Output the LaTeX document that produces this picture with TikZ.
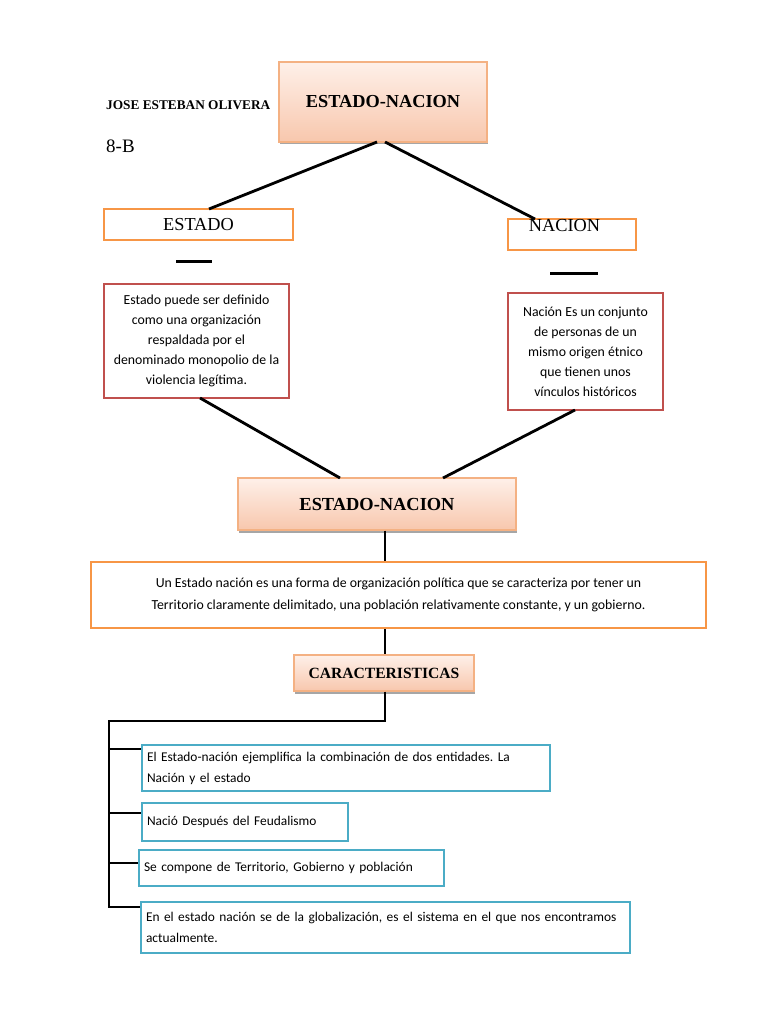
\documentclass[tikz,border=0pt]{standalone}
\usepackage{fontspec}
\setmainfont{Liberation Serif}
\newfontfamily\bodyfont{Carlito}
\usetikzlibrary{shadows}
\definecolor{peachtop}{HTML}{FEF0E9}
\definecolor{peachbot}{HTML}{F8C7AD}
\definecolor{peachline}{HTML}{F4B183}
\definecolor{orangeline}{HTML}{F79646}
\definecolor{redline}{HTML}{C0504D}
\definecolor{blueline}{HTML}{4BACC6}
\tikzset{
  gradbox/.style={draw=peachline, line width=1.2pt, top color=peachtop, bottom color=peachbot,
    inner sep=0pt, font=\bfseries, drop shadow={shadow xshift=1pt, shadow yshift=-2.5pt, fill=black, opacity=0.35}},
  orangebox/.style={draw=orangeline, line width=2pt, fill=white, inner sep=0pt},
  redbox/.style={draw=redline, line width=2pt, fill=white, inner sep=0pt, align=center,
    font=\bodyfont\frenchspacing\fontsize{13.8}{20}\selectfont},
  bluebox/.style={draw=blueline, line width=2pt, fill=white, inner xsep=5pt, inner ysep=0pt, align=left,
    font=\bodyfont\frenchspacing\fontsize{13.4}{21}\selectfont},
  conn/.style={line width=2.8pt, black},
  dashbar/.style={line width=3pt, black}
}
\begin{document}
\begin{tikzpicture}[x=1pt,y=-1pt]
\useasboundingbox (0,0) rectangle (768,1024);
\fill[white] (0,0) rectangle (768,1024);

% top
\node[gradbox, minimum width=208pt, minimum height=80pt, font=\bfseries\fontsize{18.3}{20}\selectfont] (top) at (383,102) {ESTADO-NACION};
\node[anchor=west, inner sep=0pt, font=\bfseries\fontsize{13.3}{14}\selectfont] (author) at (106,105) {JOSE ESTEBAN OLIVERA};
\node[anchor=west, inner sep=0pt, font=\fontsize{19}{21}\selectfont] (grade) at (106,146) {8-B};

% second level
\node[orangebox, minimum width=189pt, minimum height=31pt, font=\fontsize{18.3}{20}\selectfont] (estado) at (198.5,224.5) {ESTADO};
\node[orangebox, minimum width=128pt, minimum height=31pt] (nacion) at (572,234.5) {};
\node[inner sep=0pt, font=\fontsize{18.3}{20}\selectfont] (naciontext) at (564.5,226) {NACION};

\coordinate (topL) at (377,142);
\coordinate (topR) at (385,142);
\coordinate (estadoTop) at (209,209);
\coordinate (nacionTop) at (535,219);
\draw[conn] (topL) -- (estadoTop);
\draw[conn] (topR) -- (nacionTop);

\draw[dashbar] (176,261) -- (212,261);
\draw[dashbar] (550,273) -- (598,273);

% definitions
\node[redbox, minimum width=185pt, minimum height=114pt] (defestado) at (196.5,341)
  {Estado puede ser definido\\como una organización\\respaldada por el\\denominado monopolio de la\\violencia legítima.};
\node[redbox, minimum width=155pt, minimum height=117pt] (defnacion) at (585.5,351.5)
  {Nación Es un conjunto\\de personas de un\\mismo origen étnico\\que tienen unos\\vínculos históricos};

% estado-nacion 2
\node[gradbox, minimum width=278pt, minimum height=52pt, font=\bfseries\fontsize{18.4}{20}\selectfont] (en) at (377,504) {ESTADO-NACION};
\coordinate (enL) at (340,478);
\coordinate (enR) at (443,478);
\draw[conn] (200,398) -- (enL);
\draw[conn] (575,410) -- (enR);

\node[orangebox, minimum width=615pt, minimum height=66pt, align=center, font=\bodyfont\frenchspacing\fontsize{13.8}{22}\selectfont] (def) at (398.5,595)
  {Un Estado nación es una forma de organización política que se caracteriza por tener un\\Territorio claramente delimitado, una población relativamente constante, y un gobierno.};
\draw[conn] (en.south -| 385,0) -- (def.north -| 385,0);

\node[gradbox, minimum width=180pt, minimum height=36pt, font=\bfseries\fontsize{15.6}{17}\selectfont] (car) at (384,673) {CARACTERISTICAS};
\draw[conn] (def.south -| 385,0) -- (car.north -| 385,0);

% characteristics
\node[bluebox, text width=398pt, minimum height=46pt] (b1) at (346,768)
  {El Estado-nación ejemplifica la combinación de dos entidades. La\\Nación y el estado};
\node[bluebox, text width=196pt, minimum height=38pt] (b2) at (245,822)
  {Nació Después del Feudalismo};
\node[bluebox, text width=295pt, minimum height=36pt] (b3) at (291.5,868)
  {Se compone de Territorio, Gobierno y población};
\node[bluebox, text width=479pt, minimum height=51pt] (b4) at (385.5,927.5)
  {En el estado nación se de la globalización, es el sistema en el que nos encontramos\\actualmente.};

\coordinate (j) at (109,721);
\draw[conn, line join=miter] (car.south -| 385,0) -- (385,721) -- (j) -- (109,907) -- (b4.west |- 0,907);
\draw[conn] (109,749) -- (b1.west |- 0,749);
\draw[conn] (109,813) -- (b2.west |- 0,813);
\draw[conn] (109,863) -- (b3.west |- 0,863);
\end{tikzpicture}
\end{document}
